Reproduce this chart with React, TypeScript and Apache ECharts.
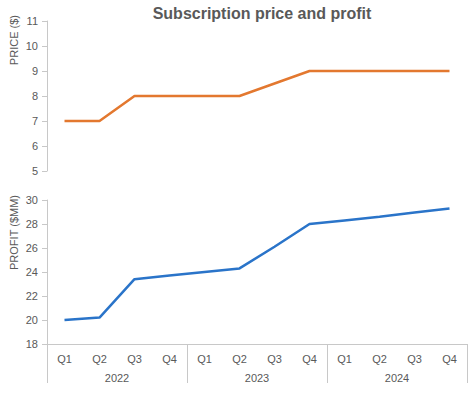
import React, { useEffect, useRef } from "react";
import * as echarts from "echarts";

const quarters = ["Q1", "Q2", "Q3", "Q4", "Q1", "Q2", "Q3", "Q4", "Q1", "Q2", "Q3", "Q4"];
const years = ["2022", "2023", "2024"];
const price = [7, 7, 8, 8, 8, 8, 8.5, 9, 9, 9, 9, 9];
const profit = [20, 20.2, 23.4, 23.7, 24.0, 24.3, 26.1, 28.0, 28.3, 28.6, 28.95, 29.3];

const FONT = "'Liberation Sans', Arial, sans-serif";
const TXT = "#595959";
const AX = "#C8C8C8";

export default function App() {
  const ref = useRef<HTMLDivElement>(null);
  useEffect(() => {
    if (!ref.current) return;
    document.body.style.margin = "0";
    const chart = echarts.init(ref.current, null, { renderer: "svg" });
    const yCommon = {
      axisLine: { show: true, lineStyle: { color: AX, width: 1 } },
      axisTick: { show: true, length: 5, lineStyle: { color: AX } },
      splitLine: { show: false },
      axisLabel: { color: TXT, fontSize: 11, fontFamily: FONT, margin: 9 },
    };
    chart.setOption({
      animation: false,
      title: {
        text: "Subscription price and profit",
        left: 257,
        textAlign: "center",
        top: 0,
        textStyle: { fontSize: 16, fontWeight: "bold", color: TXT, fontFamily: FONT },
      },
      graphic: [
        {
          type: "text",
          x: 8,
          y: 15,
          rotation: Math.PI / 2,
          style: { text: "PRICE ($)", textAlign: "right", textVerticalAlign: "top", fill: TXT, fontSize: 11, fontFamily: FONT },
        },
        {
          type: "text",
          x: 8,
          y: 195,
          rotation: Math.PI / 2,
          style: { text: "PROFIT ($MM)", textAlign: "right", textVerticalAlign: "top", fill: TXT, fontSize: 11, fontFamily: FONT },
        },
      ],
      grid: [
        { left: 47, right: 7, top: 21, height: 150 },
        { left: 47, right: 7, top: 200, height: 144 },
      ],
      xAxis: [
        { type: "category", gridIndex: 0, data: quarters, boundaryGap: true, show: false },
        {
          type: "category",
          gridIndex: 1,
          data: quarters,
          boundaryGap: true,
          position: "bottom",
          axisLine: { show: true, lineStyle: { color: AX } },
          axisTick: { show: false },
          axisLabel: { color: TXT, fontSize: 11, fontFamily: FONT, margin: 9, interval: 0 },
        },
        {
          type: "category",
          gridIndex: 1,
          data: years,
          boundaryGap: true,
          position: "bottom",
          axisLine: { show: false },
          axisTick: { show: true, length: 39, lineStyle: { color: AX } },
          axisLabel: { color: TXT, fontSize: 11, fontFamily: FONT, margin: 28, interval: 0 },
        },
      ],
      yAxis: [
        { type: "value", gridIndex: 0, min: 5, max: 11, interval: 1, ...yCommon },
        { type: "value", gridIndex: 1, min: 18, max: 30, interval: 2, ...yCommon },
      ],
      series: [
        {
          type: "line",
          xAxisIndex: 0,
          yAxisIndex: 0,
          data: price,
          showSymbol: false,
          lineStyle: { color: "#E3782F", width: 2.5 },
          itemStyle: { color: "#E3782F" },
        },
        {
          type: "line",
          xAxisIndex: 1,
          yAxisIndex: 1,
          data: profit,
          showSymbol: false,
          lineStyle: { color: "#2A74C9", width: 2.5 },
          itemStyle: { color: "#2A74C9" },
        },
      ],
    });
    return () => chart.dispose();
  }, []);
  return <div ref={ref} style={{ width: 474, height: 395 }} />;
}
